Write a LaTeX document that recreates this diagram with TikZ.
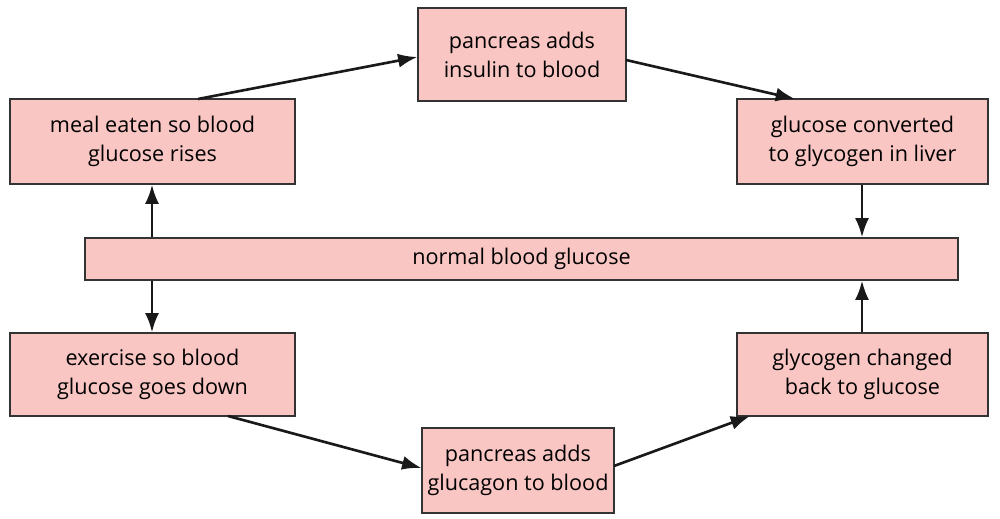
\documentclass[tikz,border=0pt]{standalone}
\usepackage{fontspec}
\setmainfont{Open Sans}
\usetikzlibrary{arrows.meta}
\definecolor{boxpink}{HTML}{F9C6C3}
\begin{document}
\begin{tikzpicture}[x=0.02cm,y=-0.02cm,
    box/.style={draw=black!80,fill=boxpink,line width=0.7pt,align=center,
      inner sep=0pt,font=\fontsize{12.3}{16.5}\selectfont},
    arr/.style={-{Latex[length=11pt,width=8pt]},line width=1.5pt,black!90}]
  \useasboundingbox (0,0) rectangle (1000,519);
  \node[box,minimum width=4.16cm,minimum height=1.86cm] (insulin) at (522,54.5) {pancreas adds\\insulin to blood};
  \node[box,minimum width=5.7cm,minimum height=1.7cm] (meal) at (152.5,141.5) {meal eaten so blood\\glucose rises};
  \node[box,minimum width=5.02cm,minimum height=1.7cm] (glycogen) at (862.5,141.5) {glucose converted\\to glycogen in liver};
  \node[box,minimum width=17.46cm,minimum height=0.84cm] (normal) at (521.5,259) {normal blood glucose};
  \node[box,minimum width=5.7cm,minimum height=1.66cm] (exercise) at (152.5,374.5) {exercise so blood\\glucose goes down};
  \node[box,minimum width=5.02cm,minimum height=1.66cm] (back) at (862.5,374.5) {glycogen changed\\back to glucose};
  \node[box,minimum width=3.84cm,minimum height=1.7cm] (glucagon) at (518,470.5) {pancreas adds\\glucagon to blood};
  % connectors
  \coordinate (m1) at (198,99);
  \coordinate (i1) at (626,60);
  \coordinate (g1) at (795,99);
  \coordinate (e1) at (228,416);
  \coordinate (c1) at (614,466);
  \coordinate (b1) at (750,416);
  \draw[arr] (m1) -- (insulin.west |- 0,57);
  \draw[arr] (i1) -- (g1);
  \draw[arr] (glycogen.south -| 862,0) -- (normal.north -| 862,0);
  \draw[arr] (back.north -| 862,0) -- (normal.south -| 862,0);
  \draw[arr] (normal.north -| 152,0) -- (meal.south -| 152,0);
  \draw[arr] (normal.south -| 152,0) -- (exercise.north -| 152,0);
  \draw[arr] (e1) -- (glucagon.west |- 0,468);
  \draw[arr] (c1) -- (b1);
\end{tikzpicture}
\end{document}
